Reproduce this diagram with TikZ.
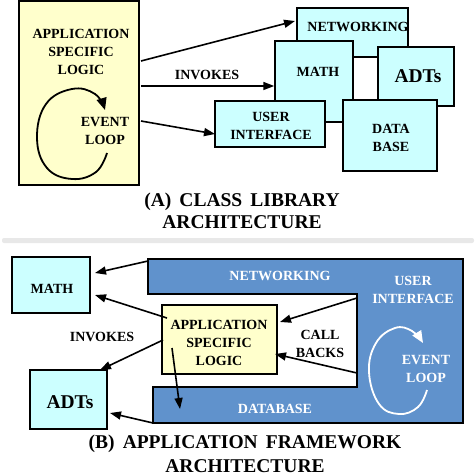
\documentclass[tikz,border=0pt]{standalone}
\usepackage{fontspec}
\setmainfont{Liberation Serif}
\usetikzlibrary{fit,arrows.meta}
\definecolor{appyel}{RGB}{255,255,204}
\definecolor{libcyan}{RGB}{204,255,255}
\definecolor{fwblue}{RGB}{96,146,204}
\definecolor{sepgray}{RGB}{232,232,232}
\tikzset{
  box/.style={draw=black, line width=1.5pt, inner sep=0pt},
  ybox/.style={box, fill=appyel},
  cbox/.style={box, fill=libcyan},
  lbl/.style={font=\fontsize{14}{18}\selectfont\bfseries, align=center, inner sep=0pt},
  wlbl/.style={lbl, text=white},
  biglbl/.style={font=\fontsize{19.5}{22}\selectfont\bfseries, inner sep=0pt},
  captxt/.style={font=\fontsize{19.5}{22}\selectfont\bfseries, align=center, inner sep=0pt},
  arr/.style={line width=1.6pt, -{Triangle[length=11pt,width=8pt]}},
  looparr/.style={line width=1.8pt, -{Triangle[length=12pt,width=10pt]}},
}
\begin{document}
\begin{tikzpicture}[x=1pt,y=-1pt]
\useasboundingbox (0,0) rectangle (474,476);
\fill[white] (0,0) rectangle (474,476);

% ---------- (A) class library ----------
\node[ybox, fit={(19,1) (139,185)}] (app) {};
\node[lbl] (applbl) at (81,52) {APPLICATION\\SPECIFIC\\LOGIC};
\node[lbl] (evlbl) at (105,131) {EVENT\\LOOP};
\draw[looparr] plot[smooth, tension=0.7] coordinates {(107,153) (96,172) (72,179) (47,168) (37,138) (46,104) (72,89) (95,94) (105,110)};

\node[cbox, fit={(297,8) (408,57)}] (net) {};
\node[lbl] (netlbl) at (358,27) {NETWORKING};
\node[cbox, fit={(275,41) (353,122)}] (math) {};
\node[lbl] (mathlbl) at (318,72) {MATH};
\node[cbox, fit={(378,47) (454,106)}] (adts) {};
\node[biglbl] (adtslbl) at (418,76) {ADTs};
\node[cbox, fit={(215,101) (325,147)}] (ui) {};
\node[lbl] (uilbl) at (271,126) {USER\\INTERFACE};
\node[cbox, fit={(343,100) (437,171)}] (db) {};
\node[lbl] (dblbl) at (391,138) {DATA\\BASE};

\coordinate (a1) at (141,61);
\coordinate (a1e) at (295,21);
\coordinate (a2) at (141,86);
\coordinate (a3) at (141,121);
\coordinate (a3e) at (215,134);
\draw[arr] (a1) -- (a1e);
\draw[arr] (a2) -- (a2 -| math.west);
\draw[arr] (a3) -- (a3e);
\node[lbl] (invA) at (207,75) {INVOKES};

\node[captxt] (capA) at (242,211) {(A)~\,CLASS~\,LIBRARY\\[0pt]ARCHITECTURE};

% separator
\node[fill=sepgray, rounded corners=2pt, inner sep=0pt, fit={(2,238) (474,243)}] (sep) {};

% ---------- (B) application framework ----------
\node[cbox, fit={(12,257) (90,313)}] (bmath) {};
\node[lbl] (bmathlbl) at (52,289) {MATH};
\node[cbox, fit={(30,370) (107,429)}] (badts) {};
\node[biglbl] (badtslbl) at (70,402) {ADTs};
\node[lbl] (invB) at (102,337) {INVOKES};

\draw[fill=fwblue, line width=1.5pt] (148,259) -- (463,259) -- (463,423) -- (153,423) -- (153,387) -- (357,387) -- (357,294) -- (148,294) -- cycle;
\coordinate (fwtop) at (148,261);
\coordinate (fwbot) at (153,423);
\coordinate (fwin1) at (357,298);
\coordinate (fwin2) at (357,373);
\node[wlbl] (bnet) at (280,276) {NETWORKING};
\node[wlbl] (bui) at (413,289.5) {USER\\INTERFACE};
\node[wlbl] (bev) at (426,368.5) {EVENT\\LOOP};
\node[wlbl] (bdb) at (275,409) {DATABASE};
\draw[looparr, white] plot[smooth, tension=0.7] coordinates {(427,390) (418,407) (399,414) (379,404) (369,372) (376,343) (395,328) (412,331) (423,343)};

\node[ybox, fit={(162,305) (277,374)}] (bapp) {};
\node[lbl] (bapplbl) at (219,342.5) {APPLICATION\\SPECIFIC\\LOGIC};
\node[lbl] (cb) at (320,343.5) {CALL\\BACKS};

\coordinate (m1) at (95,273);
\coordinate (m2) at (95,295);
\coordinate (p1) at (167,318);
\coordinate (p2) at (163,340);
\coordinate (p3) at (172,348);
\coordinate (q2) at (100,370);
\coordinate (q3) at (180,409);
\coordinate (q4) at (110,413);
\coordinate (c1) at (280,322);
\coordinate (c2) at (275,354);
\draw[arr] (fwtop) -- (m1);
\draw[arr] (p1) -- (m2);
\draw[arr] (p2) -- (q2);
\draw[arr] (p3) -- (q3);
\draw[arr] (fwbot) -- (q4);
\draw[arr] (fwin1) -- (c1);
\draw[arr] (fwin2) -- (c2);

\node[captxt] (capB) at (245,444) {(B)~\,APPLICATION~\,FRAMEWORK};
\node[font=\fontsize{19.5}{22}\selectfont\bfseries, inner sep=0pt, anchor=base] (capB2) at (245,472) {ARCHITECTURE};
\end{tikzpicture}
\end{document}
